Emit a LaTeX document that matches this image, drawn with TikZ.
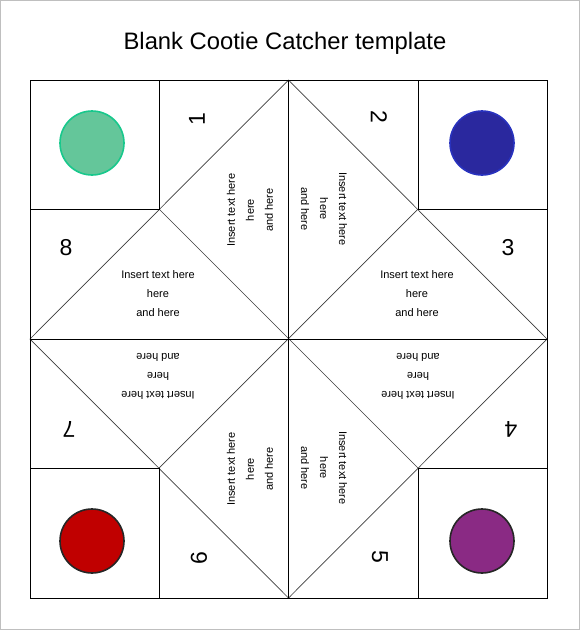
\documentclass[tikz,border=0pt]{standalone}
\usepackage{fontspec}
\setmainfont{Liberation Sans}
\definecolor{gfill}{RGB}{100,198,154}
\definecolor{gline}{RGB}{24,200,140}
\definecolor{bfill}{RGB}{42,40,158}
\definecolor{bline}{RGB}{40,50,190}
\definecolor{rfill}{RGB}{192,0,0}
\definecolor{pfill}{RGB}{138,42,132}
\definecolor{diag}{RGB}{60,60,60}
\begin{document}
\begin{tikzpicture}[x=1pt,y=-1pt,
  frame/.style={draw=black,line width=1pt},
  thin/.style={draw=diag,line width=0.7pt},
  num/.style={font=\fontsize{23}{23}\selectfont,inner sep=0pt},
  txt/.style={font=\fontsize{11}{19}\selectfont,align=center,inner sep=0pt},
  dot/.style={circle,minimum size=64pt,inner sep=0pt,line width=1.6pt}]
\useasboundingbox (0,0) rectangle (580,630);
\draw[draw=black!25,line width=0.8pt] (0.5,0.5) rectangle (579.5,629.5);
\node[font=\fontsize{23.8}{24}\selectfont,anchor=base] (title) at (285,49) {Blank Cootie Catcher template};
% key points
\coordinate (TL) at (30,80);
\coordinate (BR) at (547,598);
\coordinate (T) at (288.5,80);
\coordinate (B) at (288.5,598);
\coordinate (L) at (30,339);
\coordinate (R) at (547,339);
\coordinate (a) at (159,209);
\coordinate (b) at (418,209);
\coordinate (c) at (159,468);
\coordinate (d) at (418,468);
% thin diamond and diagonals
\draw[thin] (T) -- (R) -- (B) -- (L) -- cycle;
\draw[thin] (a) -- (d);
\draw[thin] (b) -- (c);
% frame lines
\draw[frame] (TL) rectangle (BR);
\draw[frame] (T) -- (B);
\draw[frame] (L) -- (R);
\draw[frame] (159,80) -- (a) -- (30,209);
\draw[frame] (418,80) -- (b) -- (547,209);
\draw[frame] (159,598) -- (c) -- (30,468);
\draw[frame] (418,598) -- (d) -- (547,468);
% circles
\node[dot,fill=gfill,draw=gline] (c1) at (92,143) {};
\node[dot,fill=bfill,draw=bline] (c2) at (482,143) {};
\node[dot,fill=rfill,draw=black!85] (c3) at (92,541) {};
\node[dot,fill=pfill,draw=black!85] (c4) at (482,541) {};
% numbers
\node[num,rotate=90] (n1) at (197,119) {1};
\node[num,rotate=-90] (n2) at (379,117) {2};
\node[num] (n3) at (508,248) {3};
\node[num,rotate=180] (n4) at (511,429) {4};
\node[num,rotate=-90] (n5) at (380,557) {5};
\node[num,rotate=90] (n6) at (199,558) {6};
\node[num,rotate=180] (n7) at (69,429) {7};
\node[num] (n8) at (66,248) {8};
% texts
\node[txt,rotate=90] (t1) at (250,210) {Insert text here\\here\\and here};
\node[txt,rotate=-90] (t2) at (324,209) {Insert text here\\here\\and here};
\node[txt] (t3) at (417,294) {Insert text here\\here\\and here};
\node[txt,rotate=180] (t4) at (418,376) {Insert text here\\here\\and here};
\node[txt,rotate=-90] (t5) at (324,468) {Insert text here\\here\\and here};
\node[txt,rotate=90] (t6) at (250,469) {Insert text here\\here\\and here};
\node[txt,rotate=180] (t7) at (158,376) {Insert text here\\here\\and here};
\node[txt] (t8) at (158,294) {Insert text here\\here\\and here};
\end{tikzpicture}
\end{document}
